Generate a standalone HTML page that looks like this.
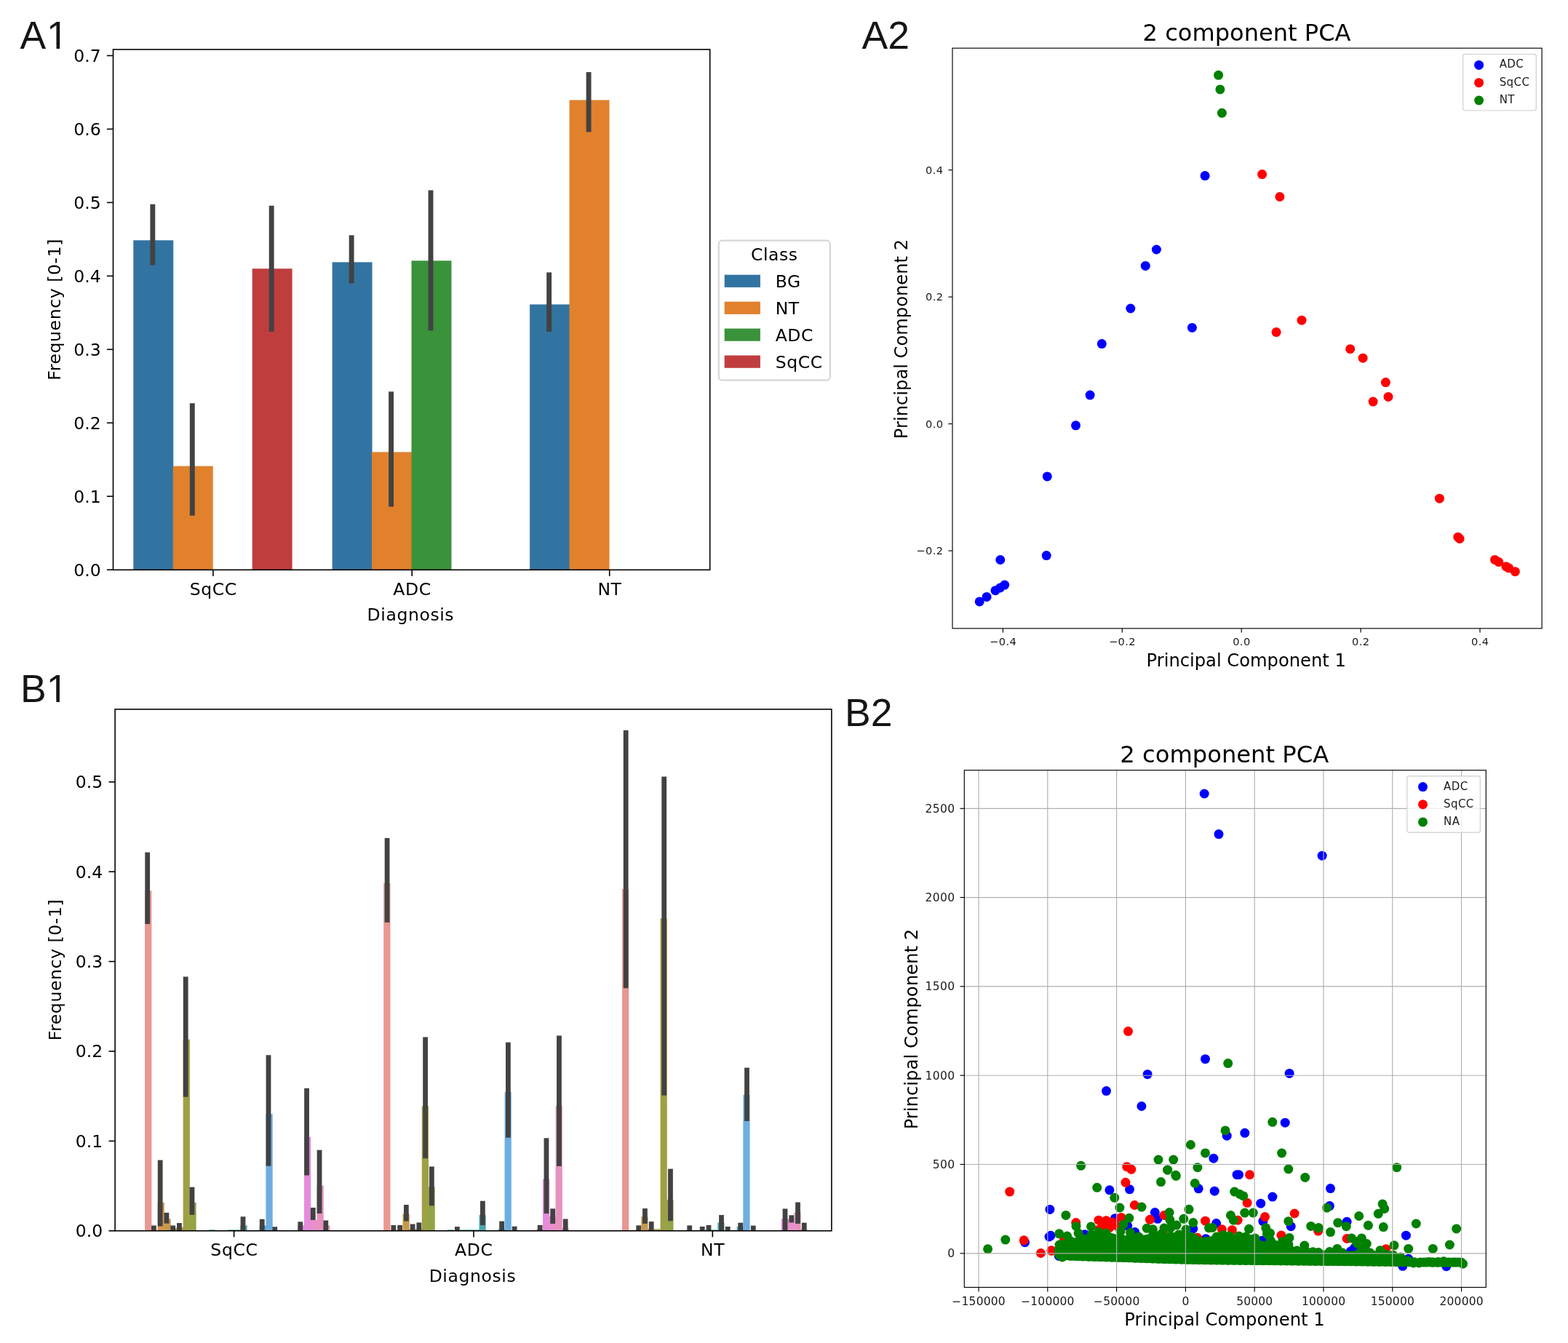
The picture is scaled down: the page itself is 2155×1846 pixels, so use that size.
<!DOCTYPE html>
<html><head><meta charset="utf-8"><title>Figure</title>
<style>
html,body{margin:0;padding:0;background:#fff;}
svg{display:block;}
</style></head>
<body>
<svg width="2155" height="1846" viewBox="0 0 2155 1846">
<rect x="0" y="0" width="2155" height="1846" fill="#fff"/>
<text x="27.6" y="66.9" font-size="53.5" text-anchor="start" fill="#161513" font-family="Liberation Sans, Arial, sans-serif">A</text>
<clipPath id="cp64"><rect x="59" y="13.4" width="53.5" height="49.33"/><rect x="77.54" y="13.4" width="4.55" height="64.2"/></clipPath>
<text x="64" y="66.9" font-size="53.5" text-anchor="start" fill="#161513" font-family="Liberation Sans, Arial, sans-serif" clip-path="url(#cp64)">1</text>
<text x="1184.5" y="66.8" font-size="53.5" text-anchor="start" fill="#161513" font-family="Liberation Sans, Arial, sans-serif">A</text>
<text x="1220.2" y="66.8" font-size="53.5" text-anchor="start" fill="#161513" font-family="Liberation Sans, Arial, sans-serif">2</text>
<text x="27.9" y="964.8" font-size="53.5" text-anchor="start" fill="#161513" font-family="Liberation Sans, Arial, sans-serif">B</text>
<clipPath id="cp63"><rect x="58.8" y="911.3" width="53.5" height="49.33"/><rect x="77.34" y="911.3" width="4.55" height="64.2"/></clipPath>
<text x="63.8" y="964.8" font-size="53.5" text-anchor="start" fill="#161513" font-family="Liberation Sans, Arial, sans-serif" clip-path="url(#cp63)">1</text>
<text x="1161" y="997.8" font-size="53.5" text-anchor="start" fill="#161513" font-family="Liberation Sans, Arial, sans-serif">B</text>
<text x="1196.7" y="997.8" font-size="53.5" text-anchor="start" fill="#161513" font-family="Liberation Sans, Arial, sans-serif">2</text>
<rect x="183.3" y="330.29" width="54.95" height="452.91" fill="#3274a1"/>
<rect x="237.75" y="640.64" width="54.95" height="142.56" fill="#e1812c"/>
<rect x="346.65" y="369.26" width="54.95" height="413.94" fill="#c03d3e"/>
<rect x="456.6" y="360.38" width="54.95" height="422.82" fill="#3274a1"/>
<rect x="511.05" y="621.36" width="54.95" height="161.84" fill="#e1812c"/>
<rect x="565.5" y="358.36" width="54.95" height="424.84" fill="#3a923a"/>
<rect x="728.1" y="418.43" width="54.95" height="364.77" fill="#3274a1"/>
<rect x="782.55" y="137.56" width="54.95" height="645.64" fill="#e1812c"/>
<line x1="209.82" y1="364.52" x2="209.82" y2="280.72" stroke="#424242" stroke-width="6.9"/>
<line x1="264.28" y1="708.69" x2="264.28" y2="554.22" stroke="#424242" stroke-width="6.9"/>
<line x1="373.18" y1="456.09" x2="373.18" y2="282.74" stroke="#424242" stroke-width="6.9"/>
<line x1="483.13" y1="389.46" x2="483.13" y2="323.33" stroke="#424242" stroke-width="6.9"/>
<line x1="537.58" y1="696.48" x2="537.58" y2="538.17" stroke="#424242" stroke-width="6.9"/>
<line x1="592.02" y1="454.27" x2="592.02" y2="261.54" stroke="#424242" stroke-width="6.9"/>
<line x1="754.62" y1="456.09" x2="754.62" y2="374.41" stroke="#424242" stroke-width="6.9"/>
<line x1="809.08" y1="181.48" x2="809.08" y2="99.1" stroke="#424242" stroke-width="6.9"/>
<rect x="155.5" y="68" width="820.2" height="715.3" fill="none" stroke="#000" stroke-width="1.6"/>
<line x1="146.9" y1="783.2" x2="155.5" y2="783.2" stroke="#000" stroke-width="1.6"/>
<text x="138.6" y="791.66" font-size="23.5" text-anchor="end" fill="#000" font-family="DejaVu Sans, Liberation Sans, sans-serif">0.0</text>
<line x1="146.9" y1="682.24" x2="155.5" y2="682.24" stroke="#000" stroke-width="1.6"/>
<text x="138.6" y="690.7" font-size="23.5" text-anchor="end" fill="#000" font-family="DejaVu Sans, Liberation Sans, sans-serif">0.1</text>
<line x1="146.9" y1="581.28" x2="155.5" y2="581.28" stroke="#000" stroke-width="1.6"/>
<text x="138.6" y="589.74" font-size="23.5" text-anchor="end" fill="#000" font-family="DejaVu Sans, Liberation Sans, sans-serif">0.2</text>
<line x1="146.9" y1="480.32" x2="155.5" y2="480.32" stroke="#000" stroke-width="1.6"/>
<text x="138.6" y="488.78" font-size="23.5" text-anchor="end" fill="#000" font-family="DejaVu Sans, Liberation Sans, sans-serif">0.3</text>
<line x1="146.9" y1="379.36" x2="155.5" y2="379.36" stroke="#000" stroke-width="1.6"/>
<text x="138.6" y="387.82" font-size="23.5" text-anchor="end" fill="#000" font-family="DejaVu Sans, Liberation Sans, sans-serif">0.4</text>
<line x1="146.9" y1="278.4" x2="155.5" y2="278.4" stroke="#000" stroke-width="1.6"/>
<text x="138.6" y="286.86" font-size="23.5" text-anchor="end" fill="#000" font-family="DejaVu Sans, Liberation Sans, sans-serif">0.5</text>
<line x1="146.9" y1="177.44" x2="155.5" y2="177.44" stroke="#000" stroke-width="1.6"/>
<text x="138.6" y="185.9" font-size="23.5" text-anchor="end" fill="#000" font-family="DejaVu Sans, Liberation Sans, sans-serif">0.6</text>
<line x1="146.9" y1="76.48" x2="155.5" y2="76.48" stroke="#000" stroke-width="1.6"/>
<text x="138.6" y="84.94" font-size="23.5" text-anchor="end" fill="#000" font-family="DejaVu Sans, Liberation Sans, sans-serif">0.7</text>
<line x1="292.9" y1="783.3" x2="292.9" y2="791.9" stroke="#000" stroke-width="1.6"/>
<text x="293.2" y="817.6" font-size="23.5" text-anchor="middle" fill="#000" font-family="DejaVu Sans, Liberation Sans, sans-serif" letter-spacing="0.6">SqCC</text>
<line x1="566.2" y1="783.3" x2="566.2" y2="791.9" stroke="#000" stroke-width="1.6"/>
<text x="566.5" y="817.6" font-size="23.5" text-anchor="middle" fill="#000" font-family="DejaVu Sans, Liberation Sans, sans-serif" letter-spacing="0.6">ADC</text>
<line x1="837.7" y1="783.3" x2="837.7" y2="791.9" stroke="#000" stroke-width="1.6"/>
<text x="838" y="817.6" font-size="23.5" text-anchor="middle" fill="#000" font-family="DejaVu Sans, Liberation Sans, sans-serif" letter-spacing="0.6">NT</text>
<text x="564.4" y="853.4" font-size="23.5" text-anchor="middle" fill="#000" font-family="DejaVu Sans, Liberation Sans, sans-serif" letter-spacing="0.6">Diagnosis</text>
<text x="82.6" y="425.35" font-size="23.5" text-anchor="middle" fill="#000" font-family="DejaVu Sans, Liberation Sans, sans-serif" transform="rotate(-90 82.6 425.35)" letter-spacing="0.6">Frequency [0-1]</text>
<rect x="987.8" y="330.7" width="153" height="191.9" rx="4.7" ry="4.7" fill="#fff" fill-opacity="0.8" stroke="#cccccc" stroke-opacity="0.8" stroke-width="2.2"/>
<text x="1064.3" y="358.2" font-size="23.5" text-anchor="middle" fill="#000" font-family="DejaVu Sans, Liberation Sans, sans-serif" letter-spacing="0.6">Class</text>
<rect x="995.7" y="377.7" width="49.2" height="17.2" fill="#3274a1"/>
<text x="1065.7" y="394.9" font-size="23.5" text-anchor="start" fill="#000" font-family="DejaVu Sans, Liberation Sans, sans-serif" letter-spacing="0.6">BG</text>
<rect x="995.7" y="414.65" width="49.2" height="17.2" fill="#e1812c"/>
<text x="1065.7" y="431.85" font-size="23.5" text-anchor="start" fill="#000" font-family="DejaVu Sans, Liberation Sans, sans-serif" letter-spacing="0.6">NT</text>
<rect x="995.7" y="451.6" width="49.2" height="17.2" fill="#3a923a"/>
<text x="1065.7" y="468.8" font-size="23.5" text-anchor="start" fill="#000" font-family="DejaVu Sans, Liberation Sans, sans-serif" letter-spacing="0.6">ADC</text>
<rect x="995.7" y="488.55" width="49.2" height="17.2" fill="#c03d3e"/>
<text x="1065.7" y="505.75" font-size="23.5" text-anchor="start" fill="#000" font-family="DejaVu Sans, Liberation Sans, sans-serif" letter-spacing="0.6">SqCC</text>
<circle cx="1656.1" cy="241.6" r="6.5" fill="#0000ff"/>
<circle cx="1589.4" cy="343" r="6.5" fill="#0000ff"/>
<circle cx="1574.3" cy="365.4" r="6.5" fill="#0000ff"/>
<circle cx="1553.8" cy="424" r="6.5" fill="#0000ff"/>
<circle cx="1638.4" cy="450.4" r="6.5" fill="#0000ff"/>
<circle cx="1514.3" cy="472.6" r="6.5" fill="#0000ff"/>
<circle cx="1498.1" cy="543.1" r="6.5" fill="#0000ff"/>
<circle cx="1478.5" cy="584.8" r="6.5" fill="#0000ff"/>
<circle cx="1439.3" cy="654.9" r="6.5" fill="#0000ff"/>
<circle cx="1438.2" cy="763.6" r="6.5" fill="#0000ff"/>
<circle cx="1374.8" cy="769.5" r="6.5" fill="#0000ff"/>
<circle cx="1380.7" cy="804.1" r="6.5" fill="#0000ff"/>
<circle cx="1374.5" cy="808" r="6.5" fill="#0000ff"/>
<circle cx="1368" cy="811.7" r="6.5" fill="#0000ff"/>
<circle cx="1356.1" cy="820.4" r="6.5" fill="#0000ff"/>
<circle cx="1346.2" cy="826.9" r="6.5" fill="#0000ff"/>
<circle cx="1734.6" cy="239.6" r="6.5" fill="#ff0000"/>
<circle cx="1758.9" cy="270.5" r="6.5" fill="#ff0000"/>
<circle cx="1789" cy="440.2" r="6.5" fill="#ff0000"/>
<circle cx="1754.1" cy="456.6" r="6.5" fill="#ff0000"/>
<circle cx="1855.7" cy="479.7" r="6.5" fill="#ff0000"/>
<circle cx="1873.1" cy="492.2" r="6.5" fill="#ff0000"/>
<circle cx="1904.4" cy="525.6" r="6.5" fill="#ff0000"/>
<circle cx="1908" cy="545.4" r="6.5" fill="#ff0000"/>
<circle cx="1887.1" cy="552.1" r="6.5" fill="#ff0000"/>
<circle cx="1978.4" cy="685.2" r="6.5" fill="#ff0000"/>
<circle cx="2003.8" cy="738.2" r="6.5" fill="#ff0000"/>
<circle cx="2006.1" cy="740.5" r="6.5" fill="#ff0000"/>
<circle cx="2054.5" cy="769.4" r="6.5" fill="#ff0000"/>
<circle cx="2059.7" cy="772.4" r="6.5" fill="#ff0000"/>
<circle cx="2069.9" cy="778.7" r="6.5" fill="#ff0000"/>
<circle cx="2073.7" cy="780.8" r="6.5" fill="#ff0000"/>
<circle cx="2082.4" cy="785.7" r="6.5" fill="#ff0000"/>
<circle cx="1674.6" cy="103.3" r="6.5" fill="#008000"/>
<circle cx="1676.9" cy="122.9" r="6.5" fill="#008000"/>
<circle cx="1679.4" cy="155.3" r="6.5" fill="#008000"/>
<rect x="1309" y="66.2" width="810.1" height="797.6" fill="none" stroke="#000" stroke-width="1.15"/>
<line x1="1378.4" y1="863.8" x2="1378.4" y2="869.4" stroke="#000" stroke-width="1.15"/>
<text x="1378.6" y="886.6" font-size="14.6" text-anchor="middle" fill="#1a1a1a" font-family="DejaVu Sans, Liberation Sans, sans-serif" letter-spacing="0.4">−0.4</text>
<line x1="1542.3" y1="863.8" x2="1542.3" y2="869.4" stroke="#000" stroke-width="1.15"/>
<text x="1542.5" y="886.6" font-size="14.6" text-anchor="middle" fill="#1a1a1a" font-family="DejaVu Sans, Liberation Sans, sans-serif" letter-spacing="0.4">−0.2</text>
<line x1="1706.2" y1="863.8" x2="1706.2" y2="869.4" stroke="#000" stroke-width="1.15"/>
<text x="1706.4" y="886.6" font-size="14.6" text-anchor="middle" fill="#1a1a1a" font-family="DejaVu Sans, Liberation Sans, sans-serif" letter-spacing="0.4">0.0</text>
<line x1="1870.1" y1="863.8" x2="1870.1" y2="869.4" stroke="#000" stroke-width="1.15"/>
<text x="1870.3" y="886.6" font-size="14.6" text-anchor="middle" fill="#1a1a1a" font-family="DejaVu Sans, Liberation Sans, sans-serif" letter-spacing="0.4">0.2</text>
<line x1="2034" y1="863.8" x2="2034" y2="869.4" stroke="#000" stroke-width="1.15"/>
<text x="2034.2" y="886.6" font-size="14.6" text-anchor="middle" fill="#1a1a1a" font-family="DejaVu Sans, Liberation Sans, sans-serif" letter-spacing="0.4">0.4</text>
<line x1="1303.4" y1="757.06" x2="1309" y2="757.06" stroke="#000" stroke-width="1.15"/>
<text x="1296.4" y="762.32" font-size="14.6" text-anchor="end" fill="#1a1a1a" font-family="DejaVu Sans, Liberation Sans, sans-serif" letter-spacing="0.4">−0.2</text>
<line x1="1303.4" y1="582.6" x2="1309" y2="582.6" stroke="#000" stroke-width="1.15"/>
<text x="1296.4" y="587.86" font-size="14.6" text-anchor="end" fill="#1a1a1a" font-family="DejaVu Sans, Liberation Sans, sans-serif" letter-spacing="0.4">0.0</text>
<line x1="1303.4" y1="408.14" x2="1309" y2="408.14" stroke="#000" stroke-width="1.15"/>
<text x="1296.4" y="413.4" font-size="14.6" text-anchor="end" fill="#1a1a1a" font-family="DejaVu Sans, Liberation Sans, sans-serif" letter-spacing="0.4">0.2</text>
<line x1="1303.4" y1="233.68" x2="1309" y2="233.68" stroke="#000" stroke-width="1.15"/>
<text x="1296.4" y="238.94" font-size="14.6" text-anchor="end" fill="#1a1a1a" font-family="DejaVu Sans, Liberation Sans, sans-serif" letter-spacing="0.4">0.4</text>
<text x="1713.55" y="55.9" font-size="32.1" text-anchor="middle" fill="#000" font-family="DejaVu Sans, Liberation Sans, sans-serif">2 component PCA</text>
<text x="1712.7" y="916" font-size="24.2" text-anchor="middle" fill="#000" font-family="DejaVu Sans, Liberation Sans, sans-serif">Principal Component 1</text>
<text x="1247" y="466" font-size="24.2" text-anchor="middle" fill="#000" font-family="DejaVu Sans, Liberation Sans, sans-serif" transform="rotate(-90 1247 466)">Principal Component 2</text>
<rect x="2010.6" y="74.5" width="100.7" height="77.4" rx="3" ry="3" fill="#fff" fill-opacity="0.8" stroke="#cccccc" stroke-opacity="0.8" stroke-width="1.4"/>
<circle cx="2032.6" cy="89.4" r="6.5" fill="#0000ff"/>
<text x="2060.7" y="93.4" font-size="15" text-anchor="start" fill="#1a1a1a" font-family="DejaVu Sans, Liberation Sans, sans-serif" letter-spacing="0.4">ADC</text>
<circle cx="2032.6" cy="113.7" r="6.5" fill="#ff0000"/>
<text x="2060.7" y="117.7" font-size="15" text-anchor="start" fill="#1a1a1a" font-family="DejaVu Sans, Liberation Sans, sans-serif" letter-spacing="0.4">SqCC</text>
<circle cx="2032.6" cy="138" r="6.5" fill="#008000"/>
<text x="2060.7" y="142" font-size="15" text-anchor="start" fill="#1a1a1a" font-family="DejaVu Sans, Liberation Sans, sans-serif" letter-spacing="0.4">NT</text>
<rect x="199.1" y="1224.36" width="9.25" height="467.44" fill="#e99791"/>
<rect x="216.61" y="1652.81" width="9.25" height="38.99" fill="#d7944e"/>
<rect x="225.37" y="1675.39" width="9.25" height="16.41" fill="#c6994b"/>
<rect x="234.12" y="1688.1" width="9.25" height="3.7" fill="#b89c49"/>
<rect x="242.87" y="1686.86" width="9.25" height="4.94" fill="#ab9e47"/>
<rect x="251.63" y="1428.71" width="9.25" height="263.09" fill="#9ea045"/>
<rect x="260.38" y="1652.81" width="9.25" height="38.99" fill="#91a446"/>
<rect x="286.64" y="1690.32" width="9.25" height="1.48" fill="#48b06a"/>
<rect x="312.9" y="1690.32" width="9.25" height="1.48" fill="#4aac9b"/>
<rect x="321.66" y="1690.32" width="9.25" height="1.48" fill="#4baba4"/>
<rect x="330.41" y="1684.4" width="9.25" height="7.4" fill="#4cabad"/>
<rect x="356.67" y="1684.4" width="9.25" height="7.4" fill="#54acd1"/>
<rect x="365.43" y="1531.26" width="9.25" height="160.54" fill="#6daee2"/>
<rect x="409.2" y="1684.4" width="9.25" height="7.4" fill="#df8fe7"/>
<rect x="417.95" y="1562.72" width="9.25" height="129.08" fill="#e78bdb"/>
<rect x="426.7" y="1676.99" width="9.25" height="14.81" fill="#e88fcc"/>
<rect x="435.46" y="1629.61" width="9.25" height="62.19" fill="#e891bf"/>
<rect x="444.21" y="1684.4" width="9.25" height="7.4" fill="#e994b2"/>
<rect x="527.2" y="1214" width="9.25" height="477.8" fill="#e99791"/>
<rect x="544.71" y="1690.57" width="9.25" height="1.23" fill="#d7944e"/>
<rect x="553.47" y="1668.35" width="9.25" height="23.45" fill="#c6994b"/>
<rect x="562.22" y="1689.33" width="9.25" height="2.47" fill="#b89c49"/>
<rect x="570.97" y="1689.33" width="9.25" height="2.47" fill="#ab9e47"/>
<rect x="579.73" y="1520.4" width="9.25" height="171.4" fill="#9ea045"/>
<rect x="588.48" y="1631.33" width="9.25" height="60.47" fill="#91a446"/>
<rect x="614.74" y="1690.32" width="9.25" height="1.48" fill="#48b06a"/>
<rect x="632.25" y="1690.32" width="9.25" height="1.48" fill="#4aad91"/>
<rect x="641" y="1690.32" width="9.25" height="1.48" fill="#4aac9b"/>
<rect x="649.76" y="1690.32" width="9.25" height="1.48" fill="#4baba4"/>
<rect x="658.51" y="1669.96" width="9.25" height="21.84" fill="#4cabad"/>
<rect x="684.77" y="1689.33" width="9.25" height="2.47" fill="#54acd1"/>
<rect x="693.53" y="1501.15" width="9.25" height="190.65" fill="#6daee2"/>
<rect x="737.3" y="1689.33" width="9.25" height="2.47" fill="#df8fe7"/>
<rect x="746.05" y="1620.72" width="9.25" height="71.08" fill="#e78bdb"/>
<rect x="754.8" y="1671.93" width="9.25" height="19.87" fill="#e88fcc"/>
<rect x="763.56" y="1520.15" width="9.25" height="171.65" fill="#e891bf"/>
<rect x="772.31" y="1688.1" width="9.25" height="3.7" fill="#e994b2"/>
<rect x="855" y="1222.02" width="9.25" height="469.78" fill="#e99791"/>
<rect x="863.76" y="1690.81" width="9.25" height="0.99" fill="#e59471"/>
<rect x="872.51" y="1690.57" width="9.25" height="1.23" fill="#d7944e"/>
<rect x="881.27" y="1672.3" width="9.25" height="19.5" fill="#c6994b"/>
<rect x="890.02" y="1689.33" width="9.25" height="2.47" fill="#b89c49"/>
<rect x="898.77" y="1689.33" width="9.25" height="2.47" fill="#ab9e47"/>
<rect x="907.53" y="1262.37" width="9.25" height="429.43" fill="#9ea045"/>
<rect x="916.28" y="1648.98" width="9.25" height="42.82" fill="#91a446"/>
<rect x="942.54" y="1690.57" width="9.25" height="1.23" fill="#48b06a"/>
<rect x="968.8" y="1690.57" width="9.25" height="1.23" fill="#4aac9b"/>
<rect x="977.56" y="1690.32" width="9.25" height="1.48" fill="#4baba4"/>
<rect x="986.31" y="1680.69" width="9.25" height="11.11" fill="#4cabad"/>
<rect x="1012.57" y="1686" width="9.25" height="5.8" fill="#54acd1"/>
<rect x="1021.33" y="1504.73" width="9.25" height="187.07" fill="#6daee2"/>
<rect x="1073.85" y="1675.26" width="9.25" height="16.54" fill="#e78bdb"/>
<rect x="1082.6" y="1675.26" width="9.25" height="16.54" fill="#e88fcc"/>
<rect x="1091.36" y="1666.63" width="9.25" height="25.17" fill="#e891bf"/>
<rect x="1100.11" y="1689.33" width="9.25" height="2.47" fill="#e994b2"/>
<line x1="202.68" y1="1270.02" x2="202.68" y2="1171.55" stroke="#424242" stroke-width="6.8"/>
<line x1="211.43" y1="1691.8" x2="211.43" y2="1684.52" stroke="#424242" stroke-width="6.8"/>
<line x1="220.19" y1="1685.51" x2="220.19" y2="1594.56" stroke="#424242" stroke-width="6.8"/>
<line x1="228.94" y1="1681.68" x2="228.94" y2="1666.87" stroke="#424242" stroke-width="6.8"/>
<line x1="237.7" y1="1691.8" x2="237.7" y2="1684.52" stroke="#424242" stroke-width="6.8"/>
<line x1="246.45" y1="1691.8" x2="246.45" y2="1681.06" stroke="#424242" stroke-width="6.8"/>
<line x1="255.2" y1="1507.69" x2="255.2" y2="1342.45" stroke="#424242" stroke-width="6.8"/>
<line x1="263.96" y1="1669.71" x2="263.96" y2="1631.7" stroke="#424242" stroke-width="6.8"/>
<line x1="333.99" y1="1691.8" x2="333.99" y2="1672.3" stroke="#424242" stroke-width="6.8"/>
<line x1="360.25" y1="1691.8" x2="360.25" y2="1675.76" stroke="#424242" stroke-width="6.8"/>
<line x1="369" y1="1602.83" x2="369" y2="1450.31" stroke="#424242" stroke-width="6.8"/>
<line x1="377.76" y1="1691.8" x2="377.76" y2="1686.25" stroke="#424242" stroke-width="6.8"/>
<line x1="412.77" y1="1691.8" x2="412.77" y2="1679.34" stroke="#424242" stroke-width="6.8"/>
<line x1="421.53" y1="1615.54" x2="421.53" y2="1495.84" stroke="#424242" stroke-width="6.8"/>
<line x1="430.28" y1="1676.99" x2="430.28" y2="1659.96" stroke="#424242" stroke-width="6.8"/>
<line x1="439.04" y1="1667.98" x2="439.04" y2="1580.74" stroke="#424242" stroke-width="6.8"/>
<line x1="447.79" y1="1691.8" x2="447.79" y2="1677.49" stroke="#424242" stroke-width="6.8"/>
<line x1="532.08" y1="1267.92" x2="532.08" y2="1151.92" stroke="#424242" stroke-width="6.8"/>
<line x1="540.83" y1="1691.8" x2="540.83" y2="1684.03" stroke="#424242" stroke-width="6.8"/>
<line x1="549.59" y1="1691.8" x2="549.59" y2="1684.03" stroke="#424242" stroke-width="6.8"/>
<line x1="558.34" y1="1678.6" x2="558.34" y2="1656.01" stroke="#424242" stroke-width="6.8"/>
<line x1="567.1" y1="1691.8" x2="567.1" y2="1682.54" stroke="#424242" stroke-width="6.8"/>
<line x1="575.85" y1="1691.8" x2="575.85" y2="1680.45" stroke="#424242" stroke-width="6.8"/>
<line x1="584.6" y1="1592.22" x2="584.6" y2="1425.5" stroke="#424242" stroke-width="6.8"/>
<line x1="593.36" y1="1657.25" x2="593.36" y2="1603.45" stroke="#424242" stroke-width="6.8"/>
<line x1="628.37" y1="1691.8" x2="628.37" y2="1686.12" stroke="#424242" stroke-width="6.8"/>
<line x1="663.39" y1="1684.15" x2="663.39" y2="1650.71" stroke="#424242" stroke-width="6.8"/>
<line x1="689.65" y1="1691.8" x2="689.65" y2="1678.6" stroke="#424242" stroke-width="6.8"/>
<line x1="698.4" y1="1563.71" x2="698.4" y2="1432.66" stroke="#424242" stroke-width="6.8"/>
<line x1="707.16" y1="1691.8" x2="707.16" y2="1685.75" stroke="#424242" stroke-width="6.8"/>
<line x1="742.17" y1="1691.8" x2="742.17" y2="1683.9" stroke="#424242" stroke-width="6.8"/>
<line x1="750.93" y1="1668.11" x2="750.93" y2="1564.33" stroke="#424242" stroke-width="6.8"/>
<line x1="759.68" y1="1682.05" x2="759.68" y2="1661.32" stroke="#424242" stroke-width="6.8"/>
<line x1="768.44" y1="1602.95" x2="768.44" y2="1423.4" stroke="#424242" stroke-width="6.8"/>
<line x1="777.19" y1="1691.8" x2="777.19" y2="1675.51" stroke="#424242" stroke-width="6.8"/>
<line x1="860.18" y1="1358.25" x2="860.18" y2="1003.84" stroke="#424242" stroke-width="6.8"/>
<line x1="877.69" y1="1691.8" x2="877.69" y2="1684.4" stroke="#424242" stroke-width="6.8"/>
<line x1="886.44" y1="1681.93" x2="886.44" y2="1661.07" stroke="#424242" stroke-width="6.8"/>
<line x1="895.2" y1="1691.8" x2="895.2" y2="1679.09" stroke="#424242" stroke-width="6.8"/>
<line x1="912.7" y1="1505.84" x2="912.7" y2="1067.52" stroke="#424242" stroke-width="6.8"/>
<line x1="921.46" y1="1678.23" x2="921.46" y2="1606.65" stroke="#424242" stroke-width="6.8"/>
<line x1="947.72" y1="1691.8" x2="947.72" y2="1684.4" stroke="#424242" stroke-width="6.8"/>
<line x1="965.23" y1="1691.8" x2="965.23" y2="1686" stroke="#424242" stroke-width="6.8"/>
<line x1="973.98" y1="1691.8" x2="973.98" y2="1684.03" stroke="#424242" stroke-width="6.8"/>
<line x1="991.49" y1="1691.8" x2="991.49" y2="1670.08" stroke="#424242" stroke-width="6.8"/>
<line x1="1000.24" y1="1691.8" x2="1000.24" y2="1686" stroke="#424242" stroke-width="6.8"/>
<line x1="1017.75" y1="1691.8" x2="1017.75" y2="1680.69" stroke="#424242" stroke-width="6.8"/>
<line x1="1026.5" y1="1541.01" x2="1026.5" y2="1467.58" stroke="#424242" stroke-width="6.8"/>
<line x1="1035.26" y1="1691.8" x2="1035.26" y2="1684.64" stroke="#424242" stroke-width="6.8"/>
<line x1="1079.03" y1="1691.8" x2="1079.03" y2="1661.44" stroke="#424242" stroke-width="6.8"/>
<line x1="1087.78" y1="1680.45" x2="1087.78" y2="1670.33" stroke="#424242" stroke-width="6.8"/>
<line x1="1096.54" y1="1682.05" x2="1096.54" y2="1652.56" stroke="#424242" stroke-width="6.8"/>
<line x1="1105.29" y1="1691.8" x2="1105.29" y2="1680.69" stroke="#424242" stroke-width="6.8"/>
<rect x="158.1" y="974.9" width="984.8" height="716.9" fill="none" stroke="#000" stroke-width="1.6"/>
<line x1="149.5" y1="1691.8" x2="158.1" y2="1691.8" stroke="#000" stroke-width="1.6"/>
<text x="141.2" y="1700.26" font-size="23.5" text-anchor="end" fill="#000" font-family="DejaVu Sans, Liberation Sans, sans-serif">0.0</text>
<line x1="149.5" y1="1568.4" x2="158.1" y2="1568.4" stroke="#000" stroke-width="1.6"/>
<text x="141.2" y="1576.86" font-size="23.5" text-anchor="end" fill="#000" font-family="DejaVu Sans, Liberation Sans, sans-serif">0.1</text>
<line x1="149.5" y1="1445" x2="158.1" y2="1445" stroke="#000" stroke-width="1.6"/>
<text x="141.2" y="1453.46" font-size="23.5" text-anchor="end" fill="#000" font-family="DejaVu Sans, Liberation Sans, sans-serif">0.2</text>
<line x1="149.5" y1="1321.6" x2="158.1" y2="1321.6" stroke="#000" stroke-width="1.6"/>
<text x="141.2" y="1330.06" font-size="23.5" text-anchor="end" fill="#000" font-family="DejaVu Sans, Liberation Sans, sans-serif">0.3</text>
<line x1="149.5" y1="1198.2" x2="158.1" y2="1198.2" stroke="#000" stroke-width="1.6"/>
<text x="141.2" y="1206.66" font-size="23.5" text-anchor="end" fill="#000" font-family="DejaVu Sans, Liberation Sans, sans-serif">0.4</text>
<line x1="149.5" y1="1074.8" x2="158.1" y2="1074.8" stroke="#000" stroke-width="1.6"/>
<text x="141.2" y="1083.26" font-size="23.5" text-anchor="end" fill="#000" font-family="DejaVu Sans, Liberation Sans, sans-serif">0.5</text>
<line x1="321.6" y1="1691.8" x2="321.6" y2="1700.4" stroke="#000" stroke-width="1.6"/>
<text x="321.9" y="1726.3" font-size="23.5" text-anchor="middle" fill="#000" font-family="DejaVu Sans, Liberation Sans, sans-serif" letter-spacing="0.6">SqCC</text>
<line x1="651" y1="1691.8" x2="651" y2="1700.4" stroke="#000" stroke-width="1.6"/>
<text x="651.3" y="1726.3" font-size="23.5" text-anchor="middle" fill="#000" font-family="DejaVu Sans, Liberation Sans, sans-serif" letter-spacing="0.6">ADC</text>
<line x1="979.3" y1="1691.8" x2="979.3" y2="1700.4" stroke="#000" stroke-width="1.6"/>
<text x="979.6" y="1726.3" font-size="23.5" text-anchor="middle" fill="#000" font-family="DejaVu Sans, Liberation Sans, sans-serif" letter-spacing="0.6">NT</text>
<text x="649.5" y="1761.8" font-size="23.5" text-anchor="middle" fill="#000" font-family="DejaVu Sans, Liberation Sans, sans-serif" letter-spacing="0.6">Diagnosis</text>
<text x="83.7" y="1333.05" font-size="23.5" text-anchor="middle" fill="#000" font-family="DejaVu Sans, Liberation Sans, sans-serif" transform="rotate(-90 83.7 1333.05)" letter-spacing="0.6">Frequency [0-1]</text>
<circle cx="1655.2" cy="1091" r="6.5" fill="#0000ff"/>
<circle cx="1675" cy="1146.6" r="6.5" fill="#0000ff"/>
<circle cx="1817.1" cy="1176.2" r="6.5" fill="#0000ff"/>
<circle cx="1656.5" cy="1455.7" r="6.5" fill="#0000ff"/>
<circle cx="1577.1" cy="1476.7" r="6.5" fill="#0000ff"/>
<circle cx="1520.5" cy="1499.6" r="6.5" fill="#0000ff"/>
<circle cx="1568.9" cy="1520.5" r="6.5" fill="#0000ff"/>
<circle cx="1686.2" cy="1561.2" r="6.5" fill="#0000ff"/>
<circle cx="1667.9" cy="1592.2" r="6.5" fill="#0000ff"/>
<circle cx="1772.1" cy="1475.4" r="6.5" fill="#0000ff"/>
<circle cx="1766.2" cy="1543.2" r="6.5" fill="#0000ff"/>
<circle cx="1710.8" cy="1557.3" r="6.5" fill="#0000ff"/>
<circle cx="1702.6" cy="1614.7" r="6.5" fill="#0000ff"/>
<circle cx="1442.9" cy="1662.4" r="6.5" fill="#0000ff"/>
<circle cx="1444" cy="1698.3" r="6.5" fill="#0000ff"/>
<circle cx="1524.9" cy="1635.8" r="6.5" fill="#0000ff"/>
<circle cx="1552.5" cy="1634.8" r="6.5" fill="#0000ff"/>
<circle cx="1408.6" cy="1707.7" r="6.5" fill="#0000ff"/>
<circle cx="1455.3" cy="1726.5" r="6.5" fill="#0000ff"/>
<circle cx="1532.3" cy="1674.8" r="6.5" fill="#0000ff"/>
<circle cx="1587.3" cy="1666.6" r="6.5" fill="#0000ff"/>
<circle cx="1591" cy="1675.3" r="6.5" fill="#0000ff"/>
<circle cx="1647.2" cy="1633.8" r="6.5" fill="#0000ff"/>
<circle cx="1669.2" cy="1637.2" r="6.5" fill="#0000ff"/>
<circle cx="1732.7" cy="1654.2" r="6.5" fill="#0000ff"/>
<circle cx="1748.9" cy="1645.1" r="6.5" fill="#0000ff"/>
<circle cx="1735.8" cy="1678.7" r="6.5" fill="#0000ff"/>
<circle cx="1774.2" cy="1685.7" r="6.5" fill="#0000ff"/>
<circle cx="1639.8" cy="1688.8" r="6.5" fill="#0000ff"/>
<circle cx="1671.6" cy="1681.6" r="6.5" fill="#0000ff"/>
<circle cx="1828.5" cy="1633.6" r="6.5" fill="#0000ff"/>
<circle cx="1827.4" cy="1657.6" r="6.5" fill="#0000ff"/>
<circle cx="1851.1" cy="1679.3" r="6.5" fill="#0000ff"/>
<circle cx="1932.4" cy="1698.2" r="6.5" fill="#0000ff"/>
<circle cx="1861.5" cy="1715.3" r="6.5" fill="#0000ff"/>
<circle cx="1856.3" cy="1719.9" r="6.5" fill="#0000ff"/>
<circle cx="1935.7" cy="1730.3" r="6.5" fill="#0000ff"/>
<circle cx="1987.8" cy="1740.7" r="6.5" fill="#0000ff"/>
<circle cx="1700" cy="1614.7" r="6.5" fill="#0000ff"/>
<circle cx="1559.7" cy="1693.6" r="6.5" fill="#0000ff"/>
<circle cx="1549.7" cy="1685.1" r="6.5" fill="#0000ff"/>
<circle cx="1491" cy="1696.7" r="6.5" fill="#0000ff"/>
<circle cx="1657.2" cy="1702.8" r="6.5" fill="#0000ff"/>
<circle cx="1734.4" cy="1705.2" r="6.5" fill="#0000ff"/>
<circle cx="1927.8" cy="1740.3" r="6.5" fill="#0000ff"/>
<circle cx="1442" cy="1700" r="6.5" fill="#0000ff"/>
<circle cx="1550.5" cy="1417.6" r="6.5" fill="#ff0000"/>
<circle cx="1387.7" cy="1638.1" r="6.5" fill="#ff0000"/>
<circle cx="1407.2" cy="1704.8" r="6.5" fill="#ff0000"/>
<circle cx="1430.4" cy="1722.5" r="6.5" fill="#ff0000"/>
<circle cx="1445.2" cy="1719.3" r="6.5" fill="#ff0000"/>
<circle cx="1548.7" cy="1603.7" r="6.5" fill="#ff0000"/>
<circle cx="1554.8" cy="1607.3" r="6.5" fill="#ff0000"/>
<circle cx="1546.9" cy="1625.3" r="6.5" fill="#ff0000"/>
<circle cx="1559.3" cy="1656.5" r="6.5" fill="#ff0000"/>
<circle cx="1717.6" cy="1614.7" r="6.5" fill="#ff0000"/>
<circle cx="1509.9" cy="1677.2" r="6.5" fill="#ff0000"/>
<circle cx="1520.3" cy="1677.7" r="6.5" fill="#ff0000"/>
<circle cx="1478.7" cy="1680.6" r="6.5" fill="#ff0000"/>
<circle cx="1541" cy="1673.4" r="6.5" fill="#ff0000"/>
<circle cx="1580.4" cy="1676.3" r="6.5" fill="#ff0000"/>
<circle cx="1599.9" cy="1670.5" r="6.5" fill="#ff0000"/>
<circle cx="1714.1" cy="1653.3" r="6.5" fill="#ff0000"/>
<circle cx="1701.1" cy="1677.2" r="6.5" fill="#ff0000"/>
<circle cx="1738.5" cy="1672.6" r="6.5" fill="#ff0000"/>
<circle cx="1779.1" cy="1668" r="6.5" fill="#ff0000"/>
<circle cx="1656.5" cy="1678.2" r="6.5" fill="#ff0000"/>
<circle cx="1679.4" cy="1689.8" r="6.5" fill="#ff0000"/>
<circle cx="1693.4" cy="1690.7" r="6.5" fill="#ff0000"/>
<circle cx="1760.9" cy="1698" r="6.5" fill="#ff0000"/>
<circle cx="1811.7" cy="1692.1" r="6.5" fill="#ff0000"/>
<circle cx="1851.1" cy="1702.5" r="6.5" fill="#ff0000"/>
<circle cx="1904.8" cy="1716.8" r="6.5" fill="#ff0000"/>
<circle cx="1924.1" cy="1729.7" r="6.5" fill="#ff0000"/>
<circle cx="1445" cy="1718.7" r="6.5" fill="#ff0000"/>
<circle cx="1524.9" cy="1687.4" r="6.5" fill="#ff0000"/>
<circle cx="1535" cy="1685" r="6.5" fill="#ff0000"/>
<circle cx="1511" cy="1689.7" r="6.5" fill="#ff0000"/>
<circle cx="1486.3" cy="1702.8" r="6.5" fill="#ff0000"/>
<circle cx="1462.4" cy="1704.4" r="6.5" fill="#ff0000"/>
<circle cx="1598.3" cy="1694.3" r="6.5" fill="#ff0000"/>
<circle cx="1645.6" cy="1701.3" r="6.5" fill="#ff0000"/>
<circle cx="1529" cy="1680" r="6.5" fill="#ff0000"/>
<circle cx="1517" cy="1683" r="6.5" fill="#ff0000"/>
<path d="M 1449 1716 L 1452 1710 L 1458 1705 L 1470 1702 L 1490 1700 L 1510 1697 L 1540 1697 L 1560 1700 L 1580 1696 L 1600 1694 L 1640 1694 L 1650 1701 L 1660 1700 L 1680 1697 L 1720 1697 L 1735 1706 L 1745 1706 L 1770 1708 L 1780 1715 L 1800 1718 L 1830 1719 L 1850 1720 L 1880 1718 L 1900 1721 L 1935 1728 L 1945 1731 L 2012 1731 L 2016 1738 L 2012 1741 L 1990 1741.5 L 1940 1741 L 1900 1740.5 L 1850 1740 L 1800 1739.5 L 1750 1739 L 1700 1738.5 L 1650 1738 L 1600 1736.7 L 1550 1735 L 1500 1733.5 L 1470 1732.5 L 1455 1731 L 1449 1725 Z" fill="#008000"/>
<circle cx="1456" cy="1724.9" r="6.5" fill="#008000"/>
<circle cx="1464" cy="1725.7" r="6.5" fill="#008000"/>
<circle cx="1472" cy="1726.37" r="6.5" fill="#008000"/>
<circle cx="1480" cy="1726.63" r="6.5" fill="#008000"/>
<circle cx="1488" cy="1726.9" r="6.5" fill="#008000"/>
<circle cx="1496" cy="1727.17" r="6.5" fill="#008000"/>
<circle cx="1504" cy="1727.42" r="6.5" fill="#008000"/>
<circle cx="1512" cy="1727.66" r="6.5" fill="#008000"/>
<circle cx="1520" cy="1727.9" r="6.5" fill="#008000"/>
<circle cx="1528" cy="1728.14" r="6.5" fill="#008000"/>
<circle cx="1536" cy="1728.38" r="6.5" fill="#008000"/>
<circle cx="1544" cy="1728.62" r="6.5" fill="#008000"/>
<circle cx="1552" cy="1728.87" r="6.5" fill="#008000"/>
<circle cx="1560" cy="1729.14" r="6.5" fill="#008000"/>
<circle cx="1568" cy="1729.41" r="6.5" fill="#008000"/>
<circle cx="1576" cy="1729.68" r="6.5" fill="#008000"/>
<circle cx="1584" cy="1729.96" r="6.5" fill="#008000"/>
<circle cx="1592" cy="1730.23" r="6.5" fill="#008000"/>
<circle cx="1600" cy="1730.5" r="6.5" fill="#008000"/>
<circle cx="1608" cy="1730.71" r="6.5" fill="#008000"/>
<circle cx="1616" cy="1730.92" r="6.5" fill="#008000"/>
<circle cx="1624" cy="1731.12" r="6.5" fill="#008000"/>
<circle cx="1632" cy="1731.33" r="6.5" fill="#008000"/>
<circle cx="1640" cy="1731.54" r="6.5" fill="#008000"/>
<circle cx="1648" cy="1731.75" r="6.5" fill="#008000"/>
<circle cx="1656" cy="1731.86" r="6.5" fill="#008000"/>
<circle cx="1664" cy="1731.94" r="6.5" fill="#008000"/>
<circle cx="1672" cy="1732.02" r="6.5" fill="#008000"/>
<circle cx="1680" cy="1732.1" r="6.5" fill="#008000"/>
<circle cx="1688" cy="1732.18" r="6.5" fill="#008000"/>
<circle cx="1696" cy="1732.26" r="6.5" fill="#008000"/>
<circle cx="1704" cy="1732.34" r="6.5" fill="#008000"/>
<circle cx="1712" cy="1732.42" r="6.5" fill="#008000"/>
<circle cx="1720" cy="1732.5" r="6.5" fill="#008000"/>
<circle cx="1728" cy="1732.58" r="6.5" fill="#008000"/>
<circle cx="1736" cy="1732.66" r="6.5" fill="#008000"/>
<circle cx="1744" cy="1732.74" r="6.5" fill="#008000"/>
<circle cx="1752" cy="1732.82" r="6.5" fill="#008000"/>
<circle cx="1760" cy="1732.9" r="6.5" fill="#008000"/>
<circle cx="1768" cy="1732.98" r="6.5" fill="#008000"/>
<circle cx="1776" cy="1733.06" r="6.5" fill="#008000"/>
<circle cx="1784" cy="1733.14" r="6.5" fill="#008000"/>
<circle cx="1792" cy="1733.22" r="6.5" fill="#008000"/>
<circle cx="1800" cy="1733.3" r="6.5" fill="#008000"/>
<circle cx="1808" cy="1733.38" r="6.5" fill="#008000"/>
<circle cx="1816" cy="1733.46" r="6.5" fill="#008000"/>
<circle cx="1824" cy="1733.54" r="6.5" fill="#008000"/>
<circle cx="1832" cy="1733.62" r="6.5" fill="#008000"/>
<circle cx="1840" cy="1733.7" r="6.5" fill="#008000"/>
<circle cx="1848" cy="1733.78" r="6.5" fill="#008000"/>
<circle cx="1856" cy="1733.86" r="6.5" fill="#008000"/>
<circle cx="1864" cy="1733.94" r="6.5" fill="#008000"/>
<circle cx="1872" cy="1734.02" r="6.5" fill="#008000"/>
<circle cx="1880" cy="1734.1" r="6.5" fill="#008000"/>
<circle cx="1888" cy="1734.18" r="6.5" fill="#008000"/>
<circle cx="1896" cy="1734.26" r="6.5" fill="#008000"/>
<circle cx="1904" cy="1734.35" r="6.5" fill="#008000"/>
<circle cx="1912" cy="1734.45" r="6.5" fill="#008000"/>
<circle cx="1920" cy="1734.55" r="6.5" fill="#008000"/>
<circle cx="1928" cy="1734.65" r="6.5" fill="#008000"/>
<circle cx="1936" cy="1734.75" r="6.5" fill="#008000"/>
<circle cx="1944" cy="1734.84" r="6.5" fill="#008000"/>
<circle cx="1952" cy="1734.92" r="6.5" fill="#008000"/>
<circle cx="1960" cy="1735" r="6.5" fill="#008000"/>
<circle cx="1968" cy="1735.08" r="6.5" fill="#008000"/>
<circle cx="1976" cy="1735.16" r="6.5" fill="#008000"/>
<circle cx="1984" cy="1735.24" r="6.5" fill="#008000"/>
<circle cx="1992" cy="1735.25" r="6.5" fill="#008000"/>
<circle cx="2000" cy="1735.07" r="6.5" fill="#008000"/>
<circle cx="2008" cy="1734.89" r="6.5" fill="#008000"/>
<circle cx="1687.7" cy="1461.6" r="6.5" fill="#008000"/>
<circle cx="1684" cy="1553.9" r="6.5" fill="#008000"/>
<circle cx="1636.4" cy="1573.5" r="6.5" fill="#008000"/>
<circle cx="1656.5" cy="1584.9" r="6.5" fill="#008000"/>
<circle cx="1592" cy="1594" r="6.5" fill="#008000"/>
<circle cx="1612.7" cy="1594" r="6.5" fill="#008000"/>
<circle cx="1485.6" cy="1602.3" r="6.5" fill="#008000"/>
<circle cx="1645.9" cy="1604.7" r="6.5" fill="#008000"/>
<circle cx="1604.6" cy="1608" r="6.5" fill="#008000"/>
<circle cx="1615.8" cy="1615.3" r="6.5" fill="#008000"/>
<circle cx="1748.8" cy="1542.3" r="6.5" fill="#008000"/>
<circle cx="1761.6" cy="1585" r="6.5" fill="#008000"/>
<circle cx="1770.8" cy="1607" r="6.5" fill="#008000"/>
<circle cx="1919.7" cy="1604.7" r="6.5" fill="#008000"/>
<circle cx="1793.7" cy="1618.4" r="6.5" fill="#008000"/>
<circle cx="1381.8" cy="1704.1" r="6.5" fill="#008000"/>
<circle cx="1357.6" cy="1716.8" r="6.5" fill="#008000"/>
<circle cx="1464.9" cy="1670.4" r="6.5" fill="#008000"/>
<circle cx="1507.7" cy="1632.3" r="6.5" fill="#008000"/>
<circle cx="1531.8" cy="1646.3" r="6.5" fill="#008000"/>
<circle cx="1569" cy="1659.1" r="6.5" fill="#008000"/>
<circle cx="1538.9" cy="1660" r="6.5" fill="#008000"/>
<circle cx="1595.5" cy="1624.6" r="6.5" fill="#008000"/>
<circle cx="1551.8" cy="1674.3" r="6.5" fill="#008000"/>
<circle cx="1479" cy="1685.4" r="6.5" fill="#008000"/>
<circle cx="1499.5" cy="1685.9" r="6.5" fill="#008000"/>
<circle cx="1543.9" cy="1683.2" r="6.5" fill="#008000"/>
<circle cx="1576.2" cy="1688.3" r="6.5" fill="#008000"/>
<circle cx="1584.4" cy="1689.8" r="6.5" fill="#008000"/>
<circle cx="1608.6" cy="1687.8" r="6.5" fill="#008000"/>
<circle cx="1455.7" cy="1695.8" r="6.5" fill="#008000"/>
<circle cx="1482.1" cy="1695.1" r="6.5" fill="#008000"/>
<circle cx="1524.6" cy="1700.4" r="6.5" fill="#008000"/>
<circle cx="1607.1" cy="1666.6" r="6.5" fill="#008000"/>
<circle cx="1642.2" cy="1626.5" r="6.5" fill="#008000"/>
<circle cx="1696.7" cy="1638.1" r="6.5" fill="#008000"/>
<circle cx="1704" cy="1641.5" r="6.5" fill="#008000"/>
<circle cx="1708.8" cy="1643.9" r="6.5" fill="#008000"/>
<circle cx="1634" cy="1662.3" r="6.5" fill="#008000"/>
<circle cx="1691.4" cy="1670.5" r="6.5" fill="#008000"/>
<circle cx="1695.3" cy="1677.2" r="6.5" fill="#008000"/>
<circle cx="1710.7" cy="1667.1" r="6.5" fill="#008000"/>
<circle cx="1722.3" cy="1667.1" r="6.5" fill="#008000"/>
<circle cx="1770.8" cy="1678.7" r="6.5" fill="#008000"/>
<circle cx="1801.7" cy="1685.4" r="6.5" fill="#008000"/>
<circle cx="1812.1" cy="1687.8" r="6.5" fill="#008000"/>
<circle cx="1626.8" cy="1675.3" r="6.5" fill="#008000"/>
<circle cx="1639.8" cy="1680.6" r="6.5" fill="#008000"/>
<circle cx="1661.5" cy="1687.8" r="6.5" fill="#008000"/>
<circle cx="1666.3" cy="1687.4" r="6.5" fill="#008000"/>
<circle cx="1716.5" cy="1689.3" r="6.5" fill="#008000"/>
<circle cx="1739.7" cy="1687.8" r="6.5" fill="#008000"/>
<circle cx="1745.5" cy="1695.1" r="6.5" fill="#008000"/>
<circle cx="1772" cy="1701.4" r="6.5" fill="#008000"/>
<circle cx="1792.8" cy="1712" r="6.5" fill="#008000"/>
<circle cx="1804.4" cy="1720.7" r="6.5" fill="#008000"/>
<circle cx="1812.1" cy="1721.6" r="6.5" fill="#008000"/>
<circle cx="1823.7" cy="1660.2" r="6.5" fill="#008000"/>
<circle cx="1900.1" cy="1655" r="6.5" fill="#008000"/>
<circle cx="1902.7" cy="1661.4" r="6.5" fill="#008000"/>
<circle cx="1894.3" cy="1668.3" r="6.5" fill="#008000"/>
<circle cx="1867.7" cy="1671.5" r="6.5" fill="#008000"/>
<circle cx="1838.7" cy="1680.7" r="6.5" fill="#008000"/>
<circle cx="1850.3" cy="1685.7" r="6.5" fill="#008000"/>
<circle cx="1880.4" cy="1684.3" r="6.5" fill="#008000"/>
<circle cx="1901.3" cy="1686.6" r="6.5" fill="#008000"/>
<circle cx="1946.3" cy="1682" r="6.5" fill="#008000"/>
<circle cx="2001.7" cy="1689" r="6.5" fill="#008000"/>
<circle cx="1812.3" cy="1687.8" r="6.5" fill="#008000"/>
<circle cx="1828.5" cy="1693.6" r="6.5" fill="#008000"/>
<circle cx="1857.5" cy="1701.9" r="6.5" fill="#008000"/>
<circle cx="1864.4" cy="1706.6" r="6.5" fill="#008000"/>
<circle cx="1871.4" cy="1701.9" r="6.5" fill="#008000"/>
<circle cx="1878.3" cy="1709.5" r="6.5" fill="#008000"/>
<circle cx="1876" cy="1714.1" r="6.5" fill="#008000"/>
<circle cx="1837.8" cy="1716.4" r="6.5" fill="#008000"/>
<circle cx="1916" cy="1711.8" r="6.5" fill="#008000"/>
<circle cx="1896.9" cy="1718.7" r="6.5" fill="#008000"/>
<circle cx="1935.7" cy="1716.4" r="6.5" fill="#008000"/>
<circle cx="1969.3" cy="1716.4" r="6.5" fill="#008000"/>
<circle cx="1992.4" cy="1711" r="6.5" fill="#008000"/>
<circle cx="1604.7" cy="1608.2" r="6.5" fill="#008000"/>
<circle cx="1616.3" cy="1616.4" r="6.5" fill="#008000"/>
<circle cx="1466.6" cy="1699" r="6.5" fill="#008000"/>
<circle cx="1509.9" cy="1693.6" r="6.5" fill="#008000"/>
<circle cx="1553.5" cy="1694.3" r="6.5" fill="#008000"/>
<circle cx="1565" cy="1700" r="6.5" fill="#008000"/>
<circle cx="1595" cy="1697" r="6.5" fill="#008000"/>
<circle cx="1607.8" cy="1676.6" r="6.5" fill="#008000"/>
<circle cx="1609.3" cy="1686.6" r="6.5" fill="#008000"/>
<circle cx="1655.6" cy="1706.7" r="6.5" fill="#008000"/>
<circle cx="1681.1" cy="1697.4" r="6.5" fill="#008000"/>
<circle cx="1702.7" cy="1699" r="6.5" fill="#008000"/>
<circle cx="1741.3" cy="1695.9" r="6.5" fill="#008000"/>
<circle cx="1746.2" cy="1705.2" r="6.5" fill="#008000"/>
<circle cx="1762.4" cy="1706.7" r="6.5" fill="#008000"/>
<circle cx="1770.9" cy="1710.6" r="6.5" fill="#008000"/>
<circle cx="1782.5" cy="1719.1" r="6.5" fill="#008000"/>
<circle cx="1827.3" cy="1720.6" r="6.5" fill="#008000"/>
<circle cx="1865.1" cy="1709" r="6.5" fill="#008000"/>
<circle cx="1882.9" cy="1722.1" r="6.5" fill="#008000"/>
<circle cx="1914.7" cy="1725.2" r="6.5" fill="#008000"/>
<circle cx="1942.5" cy="1736" r="6.5" fill="#008000"/>
<circle cx="1950.2" cy="1736" r="6.5" fill="#008000"/>
<circle cx="1964.1" cy="1734.5" r="6.5" fill="#008000"/>
<circle cx="1976.5" cy="1734.5" r="6.5" fill="#008000"/>
<circle cx="1984.2" cy="1733.7" r="6.5" fill="#008000"/>
<circle cx="1991.2" cy="1734.9" r="6.5" fill="#008000"/>
<circle cx="2003.5" cy="1734.9" r="6.5" fill="#008000"/>
<circle cx="2010.5" cy="1737.2" r="6.5" fill="#008000"/>
<circle cx="1957" cy="1735" r="6.5" fill="#008000"/>
<circle cx="1970" cy="1735" r="6.5" fill="#008000"/>
<circle cx="1997" cy="1735" r="6.5" fill="#008000"/>
<circle cx="1456" cy="1711" r="6.5" fill="#008000"/>
<circle cx="1458" cy="1722" r="6.5" fill="#008000"/>
<circle cx="1460" cy="1728" r="6.5" fill="#008000"/>
<circle cx="1470" cy="1705" r="6.5" fill="#008000"/>
<circle cx="1490" cy="1703" r="6.5" fill="#008000"/>
<circle cx="1530" cy="1702" r="6.5" fill="#008000"/>
<circle cx="1560" cy="1702" r="6.5" fill="#008000"/>
<circle cx="1620" cy="1697" r="6.5" fill="#008000"/>
<circle cx="1630" cy="1690" r="6.5" fill="#008000"/>
<circle cx="1672" cy="1700" r="6.5" fill="#008000"/>
<circle cx="1690" cy="1699" r="6.5" fill="#008000"/>
<circle cx="1712" cy="1700" r="6.5" fill="#008000"/>
<circle cx="1725" cy="1702" r="6.5" fill="#008000"/>
<circle cx="1752" cy="1711" r="6.5" fill="#008000"/>
<circle cx="1795" cy="1720" r="6.5" fill="#008000"/>
<circle cx="1845" cy="1722" r="6.5" fill="#008000"/>
<circle cx="1870" cy="1720" r="6.5" fill="#008000"/>
<circle cx="1905" cy="1724" r="6.5" fill="#008000"/>
<circle cx="1925" cy="1728" r="6.5" fill="#008000"/>
<circle cx="1935" cy="1733" r="6.5" fill="#008000"/>
<circle cx="1617" cy="1684" r="6.5" fill="#008000"/>
<circle cx="1600" cy="1688" r="6.5" fill="#008000"/>
<circle cx="1585" cy="1697" r="6.5" fill="#008000"/>
<circle cx="1540" cy="1693" r="6.5" fill="#008000"/>
<circle cx="1500" cy="1697" r="6.5" fill="#008000"/>
<circle cx="1520" cy="1695" r="6.5" fill="#008000"/>
<line x1="1345.03" y1="1058.7" x2="1345.03" y2="1769.5" stroke="#b0b0b0" stroke-width="1.15"/>
<line x1="1439.82" y1="1058.7" x2="1439.82" y2="1769.5" stroke="#b0b0b0" stroke-width="1.15"/>
<line x1="1534.61" y1="1058.7" x2="1534.61" y2="1769.5" stroke="#b0b0b0" stroke-width="1.15"/>
<line x1="1629.4" y1="1058.7" x2="1629.4" y2="1769.5" stroke="#b0b0b0" stroke-width="1.15"/>
<line x1="1724.19" y1="1058.7" x2="1724.19" y2="1769.5" stroke="#b0b0b0" stroke-width="1.15"/>
<line x1="1818.98" y1="1058.7" x2="1818.98" y2="1769.5" stroke="#b0b0b0" stroke-width="1.15"/>
<line x1="1913.77" y1="1058.7" x2="1913.77" y2="1769.5" stroke="#b0b0b0" stroke-width="1.15"/>
<line x1="2008.56" y1="1058.7" x2="2008.56" y2="1769.5" stroke="#b0b0b0" stroke-width="1.15"/>
<line x1="1325.3" y1="1722.8" x2="2042.3" y2="1722.8" stroke="#b0b0b0" stroke-width="1.15"/>
<line x1="1325.3" y1="1600.5" x2="2042.3" y2="1600.5" stroke="#b0b0b0" stroke-width="1.15"/>
<line x1="1325.3" y1="1478.2" x2="2042.3" y2="1478.2" stroke="#b0b0b0" stroke-width="1.15"/>
<line x1="1325.3" y1="1355.9" x2="2042.3" y2="1355.9" stroke="#b0b0b0" stroke-width="1.15"/>
<line x1="1325.3" y1="1233.6" x2="2042.3" y2="1233.6" stroke="#b0b0b0" stroke-width="1.15"/>
<line x1="1325.3" y1="1111.3" x2="2042.3" y2="1111.3" stroke="#b0b0b0" stroke-width="1.15"/>
<rect x="1325.3" y="1058.7" width="717" height="710.8" fill="none" stroke="#000" stroke-width="1.15"/>
<line x1="1345.03" y1="1769.5" x2="1345.03" y2="1775.4" stroke="#000" stroke-width="1.15"/>
<text x="1345.13" y="1793.7" font-size="15.5" text-anchor="middle" fill="#1a1a1a" font-family="DejaVu Sans, Liberation Sans, sans-serif" letter-spacing="0.2">−150000</text>
<line x1="1439.82" y1="1769.5" x2="1439.82" y2="1775.4" stroke="#000" stroke-width="1.15"/>
<text x="1439.92" y="1793.7" font-size="15.5" text-anchor="middle" fill="#1a1a1a" font-family="DejaVu Sans, Liberation Sans, sans-serif" letter-spacing="0.2">−100000</text>
<line x1="1534.61" y1="1769.5" x2="1534.61" y2="1775.4" stroke="#000" stroke-width="1.15"/>
<text x="1534.71" y="1793.7" font-size="15.5" text-anchor="middle" fill="#1a1a1a" font-family="DejaVu Sans, Liberation Sans, sans-serif" letter-spacing="0.2">−50000</text>
<line x1="1629.4" y1="1769.5" x2="1629.4" y2="1775.4" stroke="#000" stroke-width="1.15"/>
<text x="1629.5" y="1793.7" font-size="15.5" text-anchor="middle" fill="#1a1a1a" font-family="DejaVu Sans, Liberation Sans, sans-serif" letter-spacing="0.2">0</text>
<line x1="1724.19" y1="1769.5" x2="1724.19" y2="1775.4" stroke="#000" stroke-width="1.15"/>
<text x="1724.29" y="1793.7" font-size="15.5" text-anchor="middle" fill="#1a1a1a" font-family="DejaVu Sans, Liberation Sans, sans-serif" letter-spacing="0.2">50000</text>
<line x1="1818.98" y1="1769.5" x2="1818.98" y2="1775.4" stroke="#000" stroke-width="1.15"/>
<text x="1819.08" y="1793.7" font-size="15.5" text-anchor="middle" fill="#1a1a1a" font-family="DejaVu Sans, Liberation Sans, sans-serif" letter-spacing="0.2">100000</text>
<line x1="1913.77" y1="1769.5" x2="1913.77" y2="1775.4" stroke="#000" stroke-width="1.15"/>
<text x="1913.87" y="1793.7" font-size="15.5" text-anchor="middle" fill="#1a1a1a" font-family="DejaVu Sans, Liberation Sans, sans-serif" letter-spacing="0.2">150000</text>
<line x1="2008.56" y1="1769.5" x2="2008.56" y2="1775.4" stroke="#000" stroke-width="1.15"/>
<text x="2008.66" y="1793.7" font-size="15.5" text-anchor="middle" fill="#1a1a1a" font-family="DejaVu Sans, Liberation Sans, sans-serif" letter-spacing="0.2">200000</text>
<line x1="1319.4" y1="1722.8" x2="1325.3" y2="1722.8" stroke="#000" stroke-width="1.15"/>
<text x="1312.6" y="1728.38" font-size="15.5" text-anchor="end" fill="#1a1a1a" font-family="DejaVu Sans, Liberation Sans, sans-serif" letter-spacing="0.4">0</text>
<line x1="1319.4" y1="1600.5" x2="1325.3" y2="1600.5" stroke="#000" stroke-width="1.15"/>
<text x="1312.6" y="1606.08" font-size="15.5" text-anchor="end" fill="#1a1a1a" font-family="DejaVu Sans, Liberation Sans, sans-serif" letter-spacing="0.4">500</text>
<line x1="1319.4" y1="1478.2" x2="1325.3" y2="1478.2" stroke="#000" stroke-width="1.15"/>
<text x="1312.6" y="1483.78" font-size="15.5" text-anchor="end" fill="#1a1a1a" font-family="DejaVu Sans, Liberation Sans, sans-serif" letter-spacing="0.4">1000</text>
<line x1="1319.4" y1="1355.9" x2="1325.3" y2="1355.9" stroke="#000" stroke-width="1.15"/>
<text x="1312.6" y="1361.48" font-size="15.5" text-anchor="end" fill="#1a1a1a" font-family="DejaVu Sans, Liberation Sans, sans-serif" letter-spacing="0.4">1500</text>
<line x1="1319.4" y1="1233.6" x2="1325.3" y2="1233.6" stroke="#000" stroke-width="1.15"/>
<text x="1312.6" y="1239.18" font-size="15.5" text-anchor="end" fill="#1a1a1a" font-family="DejaVu Sans, Liberation Sans, sans-serif" letter-spacing="0.4">2000</text>
<line x1="1319.4" y1="1111.3" x2="1325.3" y2="1111.3" stroke="#000" stroke-width="1.15"/>
<text x="1312.6" y="1116.88" font-size="15.5" text-anchor="end" fill="#1a1a1a" font-family="DejaVu Sans, Liberation Sans, sans-serif" letter-spacing="0.4">2500</text>
<text x="1682.8" y="1048.2" font-size="32.2" text-anchor="middle" fill="#000" font-family="DejaVu Sans, Liberation Sans, sans-serif">2 component PCA</text>
<text x="1683" y="1821.9" font-size="24.3" text-anchor="middle" fill="#000" font-family="DejaVu Sans, Liberation Sans, sans-serif">Principal Component 1</text>
<text x="1261" y="1414.6" font-size="24.3" text-anchor="middle" fill="#000" font-family="DejaVu Sans, Liberation Sans, sans-serif" transform="rotate(-90 1261 1414.6)">Principal Component 2</text>
<rect x="1933.8" y="1066.8" width="100.6" height="77.5" rx="3" ry="3" fill="#fff" fill-opacity="0.8" stroke="#cccccc" stroke-opacity="0.8" stroke-width="1.4"/>
<circle cx="1955.5" cy="1081.6" r="6.5" fill="#0000ff"/>
<text x="1984.1" y="1085.6" font-size="15" text-anchor="start" fill="#1a1a1a" font-family="DejaVu Sans, Liberation Sans, sans-serif" letter-spacing="0.4">ADC</text>
<circle cx="1955.5" cy="1105.75" r="6.5" fill="#ff0000"/>
<text x="1984.1" y="1109.75" font-size="15" text-anchor="start" fill="#1a1a1a" font-family="DejaVu Sans, Liberation Sans, sans-serif" letter-spacing="0.4">SqCC</text>
<circle cx="1955.5" cy="1129.9" r="6.5" fill="#008000"/>
<text x="1984.1" y="1133.9" font-size="15" text-anchor="start" fill="#1a1a1a" font-family="DejaVu Sans, Liberation Sans, sans-serif" letter-spacing="0.4">NA</text>
</svg>
</body></html>
